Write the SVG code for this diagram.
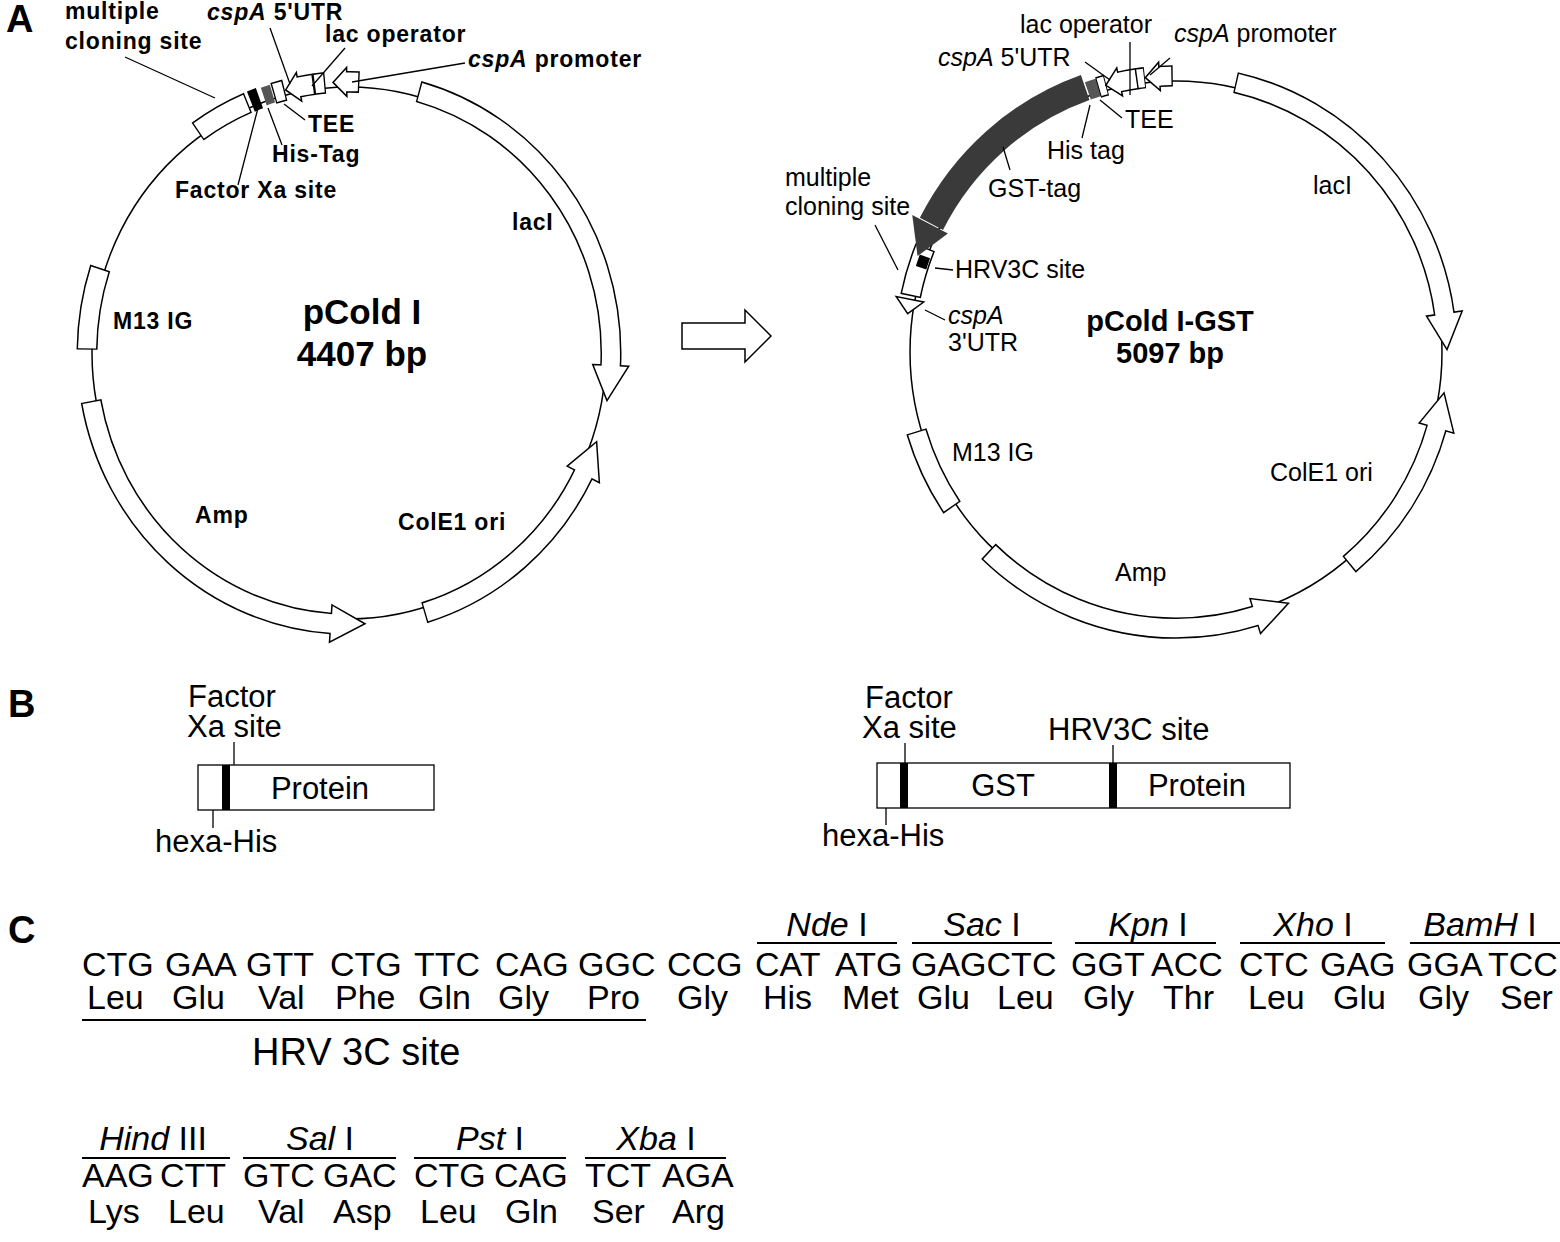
<svg xmlns="http://www.w3.org/2000/svg" xmlns:xlink="http://www.w3.org/1999/xlink" width="1560" height="1242" viewBox="0 0 1560 1242">
<style>
text{font-family:"Liberation Sans",Arial,sans-serif;fill:#000}
.lb{font-weight:bold;font-size:23px;letter-spacing:0.8px}
.rl{font-size:25px}
.ttl{font-weight:bold;font-size:35px;text-anchor:middle}
.ttr{font-weight:bold;font-size:29px;text-anchor:middle}
.pl{font-weight:bold;font-size:38px}
.b{font-size:31px}
.c{font-size:34px}
.bk{fill:none;stroke:#000;stroke-width:21}
.wh{fill:none;stroke:#fff;stroke-width:18}
.bb{fill:none;stroke:#000;stroke-width:1.5}
.hd{fill:#fff;stroke:#000;stroke-width:1.5}
.ld{stroke:#000;stroke-width:1.3;fill:none}
.ln{stroke:#000;stroke-width:2;fill:none}
</style>
<defs>
<polygon id="hL" class="hd" points="0,-244 0,-280 34.2,-259.8"/>
<polygon id="hsL" class="hd" points="0,-248 0,-276 13.7,-261.6"/>
<polygon id="hR" class="hd" points="0,-253 0,-289 35.4,-268.7"/>
<polygon id="hsR" class="hd" points="0,-257 0,-285 14.2,-270.6"/>
</defs>

<text class="pl" x="6" y="32">A</text>
<text class="pl" x="8" y="717">B</text>
<text class="pl" x="8" y="943">C</text>

<g id="plasmid1" transform="translate(349,353) scale(1,1.035)">
<circle r="257" class="bb"/>
<circle r="262" pathLength="360" class="bk" stroke-dasharray="77.2 282.8" stroke-dashoffset="74.6"/>
<use href="#hL" transform="rotate(92.6)"/>
<circle r="262" pathLength="360" class="wh" stroke-dasharray="77.5 282.5" stroke-dashoffset="74.3"/>
<circle r="262" pathLength="360" class="bk" stroke-dasharray="46.7 313.3" stroke-dashoffset="-26.6"/>
<use href="#hL" transform="rotate(116.6) scale(-1,1)"/>
<circle r="262" pathLength="360" class="wh" stroke-dasharray="47 313" stroke-dashoffset="-26"/>
<circle r="262" pathLength="360" class="bk" stroke-dasharray="75.8 284.2" stroke-dashoffset="-94"/>
<use href="#hL" transform="rotate(184) scale(-1,1)"/>
<circle r="262" pathLength="360" class="wh" stroke-dasharray="76.1 283.9" stroke-dashoffset="-93.4"/>
<circle r="262" pathLength="360" class="bk" stroke-dasharray="17.6 342.4" stroke-dashoffset="-180.7"/>
<circle r="262" pathLength="360" class="wh" stroke-dasharray="17 343" stroke-dashoffset="-181"/>
<circle r="262" pathLength="360" class="bk" stroke-dasharray="12.6 347.4" stroke-dashoffset="-234.7"/>
<circle r="262" pathLength="360" class="wh" stroke-dasharray="12 348" stroke-dashoffset="-235"/>
<circle r="262" pathLength="360" class="bk" stroke-dasharray="2 358" stroke-dashoffset="-248"/>
<circle r="262" pathLength="360" fill="none" stroke="#555" stroke-width="18" stroke-dasharray="2 358" stroke-dashoffset="-251"/>
<circle r="262" pathLength="360" class="bk" stroke-dasharray="2.6 357.4" stroke-dashoffset="-253.2"/>
<circle r="262" pathLength="360" class="wh" stroke-dasharray="2 358" stroke-dashoffset="-253.5"/>
<circle r="262" pathLength="360" class="bk" stroke-dasharray="3.3 356.7" stroke-dashoffset="-259"/>
<use href="#hsL" transform="rotate(349) scale(-1,1)"/>
<circle r="262" pathLength="360" class="wh" stroke-dasharray="3.4 356.6" stroke-dashoffset="-258.6"/>
<circle r="262" pathLength="360" class="bk" stroke-dasharray="2.6 357.4" stroke-dashoffset="-262.2"/>
<circle r="262" pathLength="360" class="wh" stroke-dasharray="2 358" stroke-dashoffset="-262.5"/>
<circle r="262" pathLength="360" class="bk" stroke-dasharray="2.8 357.2" stroke-dashoffset="-269.5"/>
<use href="#hsL" transform="rotate(359.5) scale(-1,1)"/>
<circle r="262" pathLength="360" class="wh" stroke-dasharray="2.9 357.1" stroke-dashoffset="-269.1"/>
</g>

<g id="labels1">
<text class="lb" x="65" y="19">multiple</text>
<text class="lb" x="65" y="49">cloning site</text>
<text class="lb" x="207" y="20"><tspan font-style="italic">cspA</tspan> 5'UTR</text>
<text class="lb" x="325" y="42">lac operator</text>
<text class="lb" x="468" y="67"><tspan font-style="italic">cspA</tspan> promoter</text>
<text class="lb" x="308" y="132">TEE</text>
<text class="lb" x="272" y="162">His-Tag</text>
<text class="lb" x="175" y="198">Factor Xa site</text>
<text class="lb" x="512" y="230">lacI</text>
<text class="lb" x="113" y="329">M13 IG</text>
<text class="lb" x="195" y="523">Amp</text>
<text class="lb" x="398" y="530">ColE1 ori</text>
<text class="ttl" x="362" y="324">pCold I</text>
<text class="ttl" x="362" y="366">4407 bp</text>
</g>

<g id="plasmid2" transform="translate(1176,352) scale(1,1.019)">
<circle r="266" class="bb"/>
<circle r="271" pathLength="360" class="bk" stroke-dasharray="69.3 290.7" stroke-dashoffset="77.3"/>
<use href="#hR" transform="rotate(82)"/>
<circle r="271" pathLength="360" class="wh" stroke-dasharray="69.6 290.4" stroke-dashoffset="77"/>
<circle r="271" pathLength="360" class="bk" stroke-dasharray="34.3 325.7" stroke-dashoffset="-16"/>
<use href="#hR" transform="rotate(106) scale(-1,1)"/>
<circle r="271" pathLength="360" class="wh" stroke-dasharray="34.6 325.4" stroke-dashoffset="-15.4"/>
<circle r="271" pathLength="360" class="bk" stroke-dasharray="60.8 299.2" stroke-dashoffset="-73"/>
<use href="#hR" transform="rotate(163) scale(-1,1)"/>
<circle r="271" pathLength="360" class="wh" stroke-dasharray="61.1 298.9" stroke-dashoffset="-72.4"/>
<circle r="271" pathLength="360" class="bk" stroke-dasharray="17.6 342.4" stroke-dashoffset="-145.7"/>
<circle r="271" pathLength="360" class="wh" stroke-dasharray="17 343" stroke-dashoffset="-146"/>
<use href="#hsR" transform="rotate(281) scale(-1,1)"/>
<circle r="271" pathLength="360" class="bk" stroke-dasharray="10.6 349.4" stroke-dashoffset="-191.7"/>
<circle r="271" pathLength="360" class="wh" stroke-dasharray="10 350" stroke-dashoffset="-192"/>
<circle r="268" pathLength="360" fill="none" stroke="#000" stroke-width="11" stroke-dasharray="2.5 357.5" stroke-dashoffset="-198"/>
<circle r="275" pathLength="360" fill="none" stroke="#3a3a3a" stroke-width="26" stroke-dasharray="43.5 316.5" stroke-dashoffset="-207.2"/>
<polygon points="0,-256 0,-296 33.5,-273" fill="#3a3a3a" transform="rotate(297) scale(-1,1)"/>
<circle r="271" pathLength="360" fill="none" stroke="#555" stroke-width="18" stroke-dasharray="2.5 357.5" stroke-dashoffset="-251"/>
<circle r="271" pathLength="360" class="bk" stroke-dasharray="1.8 358.2" stroke-dashoffset="-253.3"/>
<circle r="271" pathLength="360" class="wh" stroke-dasharray="1.4 358.6" stroke-dashoffset="-253.5"/>
<circle r="271" pathLength="360" class="bk" stroke-dasharray="3.8 356.2" stroke-dashoffset="-258"/>
<use href="#hsR" transform="rotate(348) scale(-1,1)"/>
<circle r="271" pathLength="360" class="wh" stroke-dasharray="3.9 356.1" stroke-dashoffset="-257.6"/>
<circle r="271" pathLength="360" class="bk" stroke-dasharray="1.8 358.2" stroke-dashoffset="-261.6"/>
<circle r="271" pathLength="360" class="wh" stroke-dasharray="1.4 358.6" stroke-dashoffset="-261.8"/>
<circle r="271" pathLength="360" class="bk" stroke-dasharray="2.8 357.2" stroke-dashoffset="-266.5"/>
<use href="#hsR" transform="rotate(356.5) scale(-1,1)"/>
<circle r="271" pathLength="360" class="wh" stroke-dasharray="2.9 357.1" stroke-dashoffset="-266.1"/>
</g>

<g id="labels2">
<text class="rl" x="1020" y="33">lac operator</text>
<text class="rl" x="1174" y="42"><tspan font-style="italic">cspA</tspan> promoter</text>
<text class="rl" x="938" y="66"><tspan font-style="italic">cspA</tspan> 5'UTR</text>
<text class="rl" x="1125" y="128">TEE</text>
<text class="rl" x="1047" y="159">His tag</text>
<text class="rl" x="988" y="197">GST-tag</text>
<text class="rl" x="785" y="186">multiple</text>
<text class="rl" x="785" y="215">cloning site</text>
<text class="rl" x="955" y="278">HRV3C site</text>
<text class="rl" x="948" y="324" font-style="italic">cspA</text>
<text class="rl" x="948" y="351">3'UTR</text>
<text class="rl" x="1313" y="194">lacI</text>
<text class="rl" x="952" y="461">M13 IG</text>
<text class="rl" x="1115" y="581">Amp</text>
<text class="rl" x="1270" y="481">ColE1 ori</text>
<text class="ttr" x="1170" y="331">pCold I-GST</text>
<text class="ttr" x="1170" y="363">5097 bp</text>
</g>

<g id="connectors">
<line class="ld" x1="125" y1="57" x2="215" y2="98"/>
<line class="ld" x1="270" y1="28" x2="290" y2="84"/>
<line class="ld" x1="345" y1="48" x2="312" y2="86"/>
<line class="ld" x1="465" y1="63" x2="352" y2="82"/>
<line class="ld" x1="305" y1="120" x2="284" y2="104"/>
<line class="ld" x1="282" y1="145" x2="268" y2="108"/>
<line class="ld" x1="238" y1="185" x2="258" y2="108"/>
<line class="ld" x1="1085" y1="62" x2="1110" y2="80"/>
<line class="ld" x1="1130" y1="42" x2="1130" y2="95"/>
<line class="ld" x1="1170" y1="58" x2="1150" y2="75"/>
<line class="ld" x1="1122" y1="118" x2="1100" y2="100"/>
<line class="ld" x1="1082" y1="138" x2="1090" y2="105"/>
<line class="ld" x1="1010" y1="170" x2="1003" y2="147"/>
<line class="ld" x1="875" y1="225" x2="898" y2="270"/>
<line class="ld" x1="935" y1="268" x2="953" y2="270"/>
<line class="ld" x1="945" y1="320" x2="925" y2="310"/>
<polygon class="hd" stroke-width="2" points="682,323 745,323 745,310 771,336 745,362 745,349 682,349"/>
</g>

<g id="panelB">
<text class="b" x="188" y="707">Factor</text>
<text class="b" x="187" y="737">Xa site</text>
<line class="ld" x1="234" y1="742" x2="234" y2="765"/>
<rect x="198" y="765" width="236" height="45" fill="#fff" stroke="#000" stroke-width="1.3"/>
<rect x="222" y="765" width="8" height="45" fill="#000"/>
<text class="b" x="320" y="799" text-anchor="middle">Protein</text>
<line class="ld" x1="213" y1="810" x2="213" y2="828"/>
<text class="b" x="155" y="852">hexa-His</text>
<text class="b" x="865" y="708">Factor</text>
<text class="b" x="862" y="738">Xa site</text>
<line class="ld" x1="905" y1="743" x2="905" y2="763"/>
<text class="b" x="1048" y="740">HRV3C site</text>
<line class="ld" x1="1113" y1="745" x2="1113" y2="763"/>
<rect x="877" y="763" width="413" height="45" fill="#fff" stroke="#000" stroke-width="1.3"/>
<rect x="900" y="763" width="8" height="45" fill="#000"/>
<rect x="1109" y="763" width="8" height="45" fill="#000"/>
<text class="b" x="1003" y="796" text-anchor="middle">GST</text>
<text class="b" x="1197" y="796" text-anchor="middle">Protein</text>
<line class="ld" x1="886" y1="808" x2="886" y2="825"/>
<text class="b" x="822" y="846">hexa-His</text>
</g>

<g id="panelC">
<text class="c" y="976"><tspan x="82">CTG</tspan><tspan x="165">GAA</tspan><tspan x="246">GTT</tspan><tspan x="330">CTG</tspan><tspan x="414">TTC</tspan><tspan x="495">CAG</tspan><tspan x="578">GGC</tspan><tspan x="667">CCG</tspan><tspan x="755">CAT</tspan><tspan x="835">ATG</tspan><tspan x="911">GAGCTC</tspan><tspan x="1071">GGT</tspan><tspan x="1151">ACC</tspan><tspan x="1239">CTC</tspan><tspan x="1320">GAG</tspan><tspan x="1407">GGA</tspan><tspan x="1488">TCC</tspan></text>
<text class="c" y="1009"><tspan x="87">Leu</tspan><tspan x="172">Glu</tspan><tspan x="258">Val</tspan><tspan x="335">Phe</tspan><tspan x="418">Gln</tspan><tspan x="498">Gly</tspan><tspan x="587">Pro</tspan><tspan x="677">Gly</tspan><tspan x="763">His</tspan><tspan x="842">Met</tspan><tspan x="917">Glu</tspan><tspan x="997">Leu</tspan><tspan x="1083">Gly</tspan><tspan x="1163">Thr</tspan><tspan x="1248">Leu</tspan><tspan x="1333">Glu</tspan><tspan x="1418">Gly</tspan><tspan x="1500">Ser</tspan></text>
<line class="ln" x1="82" y1="1020" x2="646" y2="1020"/>
<text x="252" y="1065" font-size="38">HRV 3C site</text>
<text class="c" x="827" y="936" text-anchor="middle"><tspan font-style="italic">Nde</tspan> I</text>
<text class="c" x="982" y="936" text-anchor="middle"><tspan font-style="italic">Sac</tspan> I</text>
<text class="c" x="1148" y="936" text-anchor="middle"><tspan font-style="italic">Kpn</tspan> I</text>
<text class="c" x="1313" y="936" text-anchor="middle"><tspan font-style="italic">Xho</tspan> I</text>
<text class="c" x="1480" y="936" text-anchor="middle"><tspan font-style="italic">BamH</tspan> I</text>
<line class="ln" x1="757" y1="943" x2="897" y2="943"/>
<line class="ln" x1="912" y1="943" x2="1052" y2="943"/>
<line class="ln" x1="1075" y1="943" x2="1216" y2="943"/>
<line class="ln" x1="1240" y1="943" x2="1385" y2="943"/>
<line class="ln" x1="1410" y1="943" x2="1560" y2="943"/>
<text class="c" x="153" y="1150" text-anchor="middle"><tspan font-style="italic">Hind</tspan> III</text>
<text class="c" x="320" y="1150" text-anchor="middle"><tspan font-style="italic">Sal</tspan> I</text>
<text class="c" x="490" y="1150" text-anchor="middle"><tspan font-style="italic">Pst</tspan> I</text>
<text class="c" x="656" y="1150" text-anchor="middle"><tspan font-style="italic">Xba</tspan> I</text>
<line class="ln" x1="82" y1="1158" x2="230" y2="1158"/>
<line class="ln" x1="243" y1="1158" x2="396" y2="1158"/>
<line class="ln" x1="414" y1="1158" x2="566" y2="1158"/>
<line class="ln" x1="585" y1="1158" x2="726" y2="1158"/>
<text class="c" y="1187"><tspan x="82">AAG</tspan><tspan x="160">CTT</tspan><tspan x="243">GTC</tspan><tspan x="323">GAC</tspan><tspan x="414">CTG</tspan><tspan x="494">CAG</tspan><tspan x="585">TCT</tspan><tspan x="662">AGA</tspan></text>
<text class="c" y="1223"><tspan x="88">Lys</tspan><tspan x="168">Leu</tspan><tspan x="258">Val</tspan><tspan x="333">Asp</tspan><tspan x="420">Leu</tspan><tspan x="505">Gln</tspan><tspan x="592">Ser</tspan><tspan x="672">Arg</tspan></text>
</g>
</svg>
